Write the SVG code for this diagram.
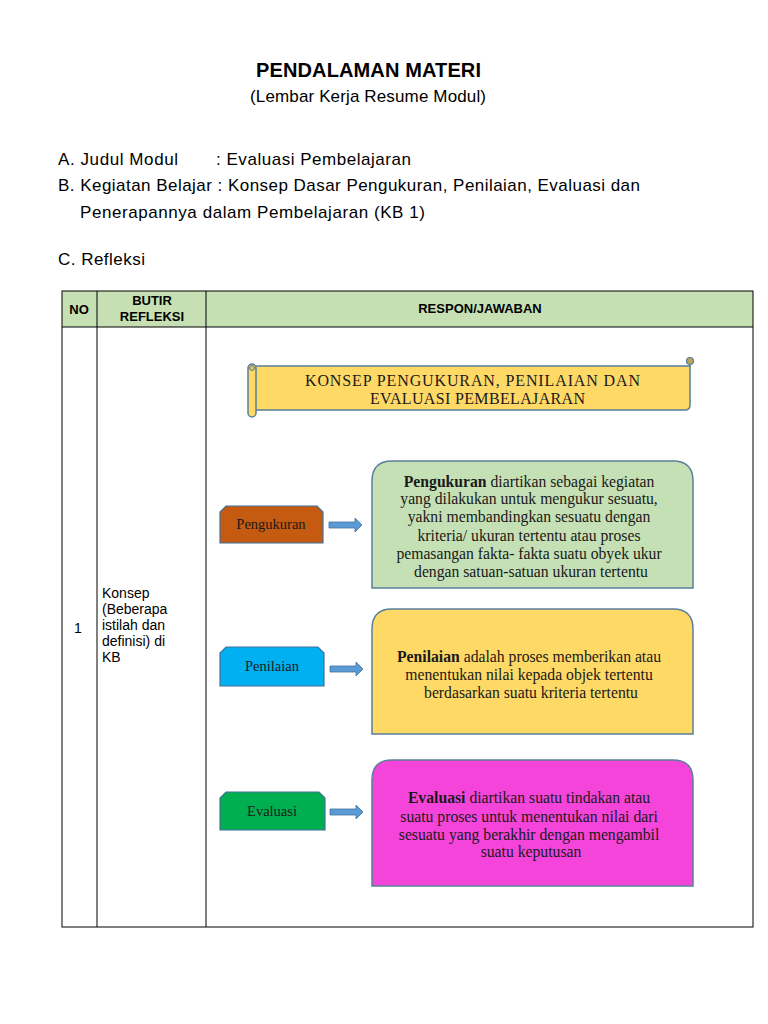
<svg xmlns="http://www.w3.org/2000/svg" width="768" height="1024" viewBox="0 0 768 1024">
<defs>
<style>
.sans{font-family:"Liberation Sans",Arial,sans-serif;fill:#000}
.serif{font-family:"Liberation Serif","Times New Roman",serif;fill:#1a1a1a}
.hdr{font-family:"Liberation Sans",Arial,sans-serif;font-weight:bold;font-size:13px;text-anchor:middle}
.grid{stroke:#000;stroke-width:1;fill:none}
.tab{stroke:#41719c;stroke-width:1.2}
.box{stroke:#5a7f99;stroke-width:1.5}
.tabtxt{font-family:"Liberation Serif","Times New Roman",serif;font-size:14.5px;text-anchor:middle;fill:#1a1a1a}
.boxtxt{font-family:"Liberation Serif","Times New Roman",serif;font-size:15.7px;text-anchor:middle;fill:#1a1a1a}
.arrow{fill:#5b9bd5;stroke:#41719c;stroke-width:0.8}
.doc{font-family:"Liberation Sans",Arial,sans-serif;font-size:17px;fill:#000}
.title{font-family:"Liberation Sans",Arial,sans-serif;font-size:20px;font-weight:bold;fill:#000}
</style>
</defs>
<rect width="768" height="1024" fill="#fff"/>

<g id="heading">
<text x="256" y="77" class="title" textLength="225">PENDALAMAN MATERI</text>
<text x="250" y="102" class="doc" textLength="236">(Lembar Kerja Resume Modul)</text>
<text x="58" y="165" class="doc" textLength="120">A. Judul Modul</text>
<text x="216" y="165" class="doc" textLength="195">: Evaluasi Pembelajaran</text>
<text x="58" y="191" class="doc" textLength="582">B. Kegiatan Belajar : Konsep Dasar Pengukuran, Penilaian, Evaluasi dan</text>
<text x="80" y="218" class="doc" textLength="345">Penerapannya dalam Pembelajaran (KB 1)</text>
<text x="58" y="265" class="doc" textLength="87">C. Refleksi</text>
</g>

<g id="table">
<rect x="62" y="291" width="691" height="36" fill="#c6e0b4"/>
<rect x="62" y="291" width="691" height="636" class="grid"/>
<line x1="62" y1="327" x2="753" y2="327" class="grid"/>
<line x1="97" y1="291" x2="97" y2="927" class="grid"/>
<line x1="206" y1="291" x2="206" y2="927" class="grid"/>
<text x="79" y="314" class="hdr">NO</text>
<text x="152" y="305" class="hdr">BUTIR</text>
<text x="152" y="321" class="hdr">REFLEKSI</text>
<text x="480" y="313" class="hdr">RESPON/JAWABAN</text>
<text x="78" y="633" class="sans" font-size="14" text-anchor="middle">1</text>
<text class="sans" font-size="14">
<tspan x="102" y="598">Konsep</tspan>
<tspan x="102" y="614">(Beberapa</tspan>
<tspan x="102" y="630">istilah dan</tspan>
<tspan x="102" y="646">definisi) di</tspan>
<tspan x="102" y="662">KB</tspan>
</text>
</g>

<g id="banner">
<path d="M252 366 H690 V405 Q690 410 685 410 H252 Z" fill="#ffd966" stroke="#5a7f99" stroke-width="1.5"/>
<line x1="690" y1="361" x2="690" y2="367" stroke="#5a7f99" stroke-width="1.5"/>
<rect x="248" y="364" width="8" height="53" rx="4" fill="#ffd966" stroke="#5a7f99" stroke-width="1.5"/>
<circle cx="252" cy="368" r="2.5" fill="#e8c050" stroke="#5a7f99" stroke-width="1"/>
<circle cx="690" cy="361" r="3.5" fill="#b9a45a" stroke="#5a7f99" stroke-width="1.2"/>
<text x="305" y="386" class="serif" font-size="16" textLength="335" fill="#222">KONSEP PENGUKURAN, PENILAIAN DAN</text>
<text x="370" y="404" class="serif" font-size="16" textLength="215" fill="#222">EVALUASI PEMBELAJARAN</text>
</g>

<g id="tab-pengukuran">
<path d="M226 506 H317 L323 512 V543 H220 V512 Z" fill="#c55a11" class="tab"/>
<text x="271" y="529" class="tabtxt">Pengukuran</text>
</g>
<g id="box-pengukuran">
<path d="M392 461 H673 Q693 461 693 481 V588 H372 V481 Q372 461 392 461 Z" fill="#c5e0b4" class="box"/>
<text class="boxtxt">
<tspan x="531" y="487"><tspan font-weight="bold">Pengukuran</tspan> diartikan sebagai kegiatan</tspan>
<tspan x="531" y="504">yang dilakukan untuk mengukur sesuatu,</tspan>
<tspan x="531" y="522">yakni membandingkan sesuatu dengan</tspan>
<tspan x="531" y="541">kriteria/ ukuran tertentu atau proses</tspan>
<tspan x="531" y="559">pemasangan fakta- fakta suatu obyek ukur</tspan>
<tspan x="531" y="577">dengan satuan-satuan ukuran tertentu</tspan>
</text>
</g>

<g id="tab-penilaian">
<path d="M226 647 H318 L324 653 V686 H220 V653 Z" fill="#00b0f0" class="tab"/>
<text x="272" y="671" class="tabtxt">Penilaian</text>
</g>
<g id="box-penilaian">
<path d="M392 609 H673 Q693 609 693 629 V734 H372 V629 Q372 609 392 609 Z" fill="#ffd966" class="box"/>
<text class="boxtxt">
<tspan x="531" y="662"><tspan font-weight="bold">Penilaian</tspan> adalah proses memberikan atau</tspan>
<tspan x="531" y="680">menentukan nilai kepada objek tertentu</tspan>
<tspan x="531" y="698">berdasarkan suatu kriteria tertentu</tspan>
</text>
</g>

<g id="tab-evaluasi">
<path d="M226 792 H319 L325 798 V830 H220 V798 Z" fill="#00b050" class="tab"/>
<text x="272" y="816" class="tabtxt">Evaluasi</text>
</g>
<g id="box-evaluasi">
<path d="M392 760 H673 Q693 760 693 780 V886 H372 V780 Q372 760 392 760 Z" fill="#f544da" class="box"/>
<text class="boxtxt">
<tspan x="531" y="803"><tspan font-weight="bold">Evaluasi</tspan> diartikan suatu tindakan atau</tspan>
<tspan x="531" y="822">suatu proses untuk menentukan nilai dari</tspan>
<tspan x="531" y="840">sesuatu yang berakhir dengan mengambil</tspan>
<tspan x="531" y="857">suatu keputusan</tspan>
</text>
</g>

<g id="connectors">
<path d="M329 522 H355 V518 L362 525 L355 532 V528 H329 Z" class="arrow"/>
<path d="M330 666 H356 V662 L363 669 L356 676 V672 H330 Z" class="arrow"/>
<path d="M330 809 H356 V805 L363 812 L356 819 V815 H330 Z" class="arrow"/>
</g>
</svg>
